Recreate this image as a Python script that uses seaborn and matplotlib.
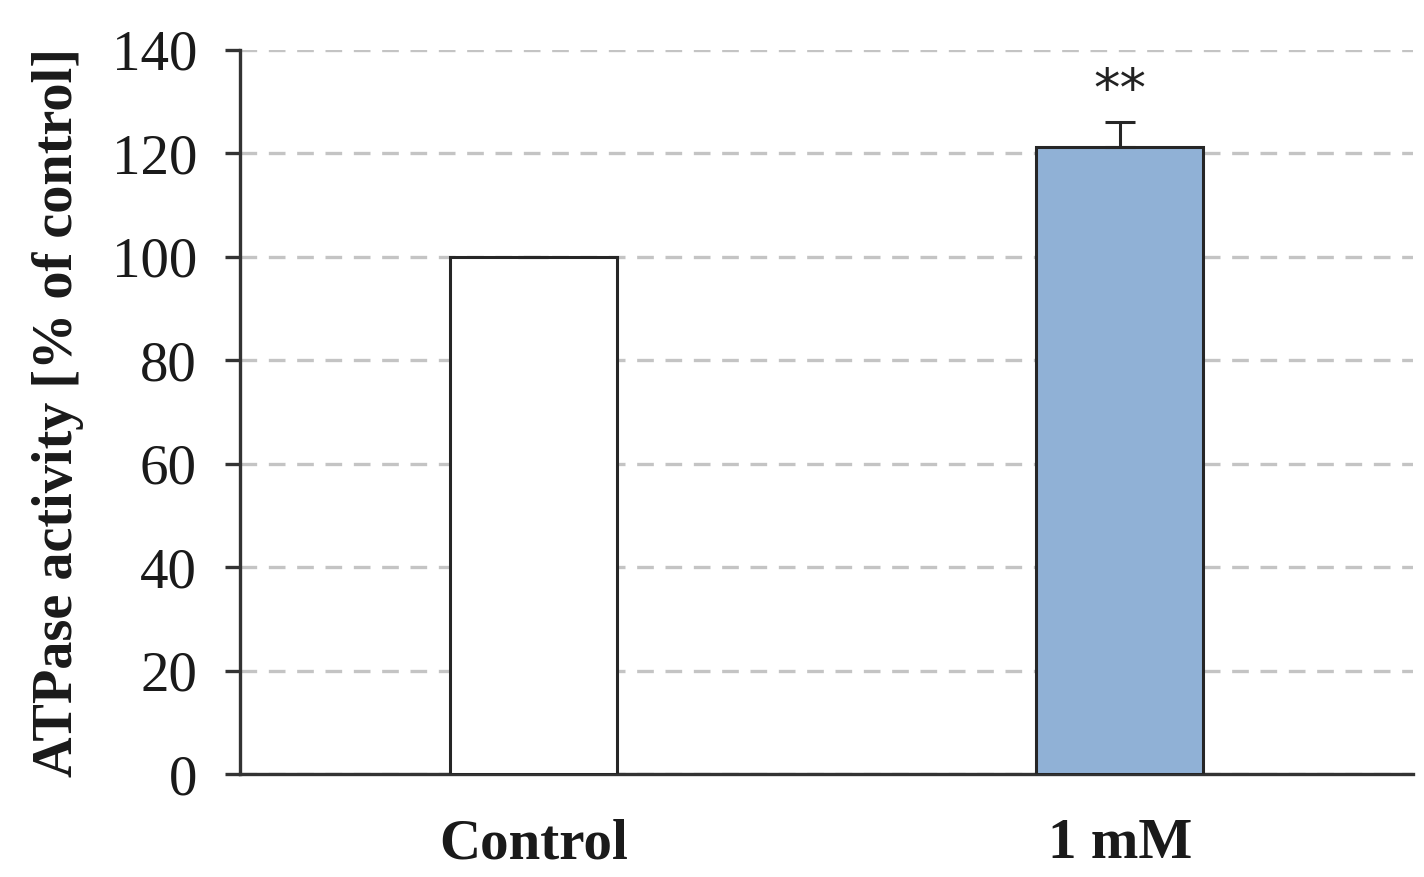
import matplotlib
matplotlib.use("Agg")
import matplotlib.pyplot as plt
import seaborn as sns
import pandas as pd

# data
groups = ["Control", "1 mM"]
activity = [100, 121.3]
sem_up = [0, 4.7]
bar_colors = ["#ffffff", "#90b1d6"]
sig_label = "**"

sns.set_theme(style="white")
plt.rcParams['font.family'] = ['Liberation Serif', 'DejaVu Serif']

df = pd.DataFrame({"group": groups, "activity": activity})

fig = plt.figure(figsize=(14.24, 8.77), dpi=100)
ax = fig.add_axes([0.1685, 0.1174, 0.8238, 0.8256])

sns.barplot(data=df, x="group", y="activity", hue="group", palette=bar_colors,
            saturation=1, legend=False, errorbar=None, width=0.285,
            edgecolor="#262626", linewidth=2.2, ax=ax, zorder=3)

# upward-only error bars
ax.errorbar(range(len(groups)), activity, yerr=[[0] * len(groups), sem_up],
            fmt="none", ecolor="#262626", elinewidth=2.2, capsize=11,
            capthick=2.2, zorder=4)
ax.text(1, 132, sig_label, ha="center", va="center", fontsize=38,
        color="#222222", family="DejaVu Sans")

ax.set_ylim(0, 140)
ax.set_xlim(-0.5, 1.5)
ax.set_yticks(range(0, 141, 20))
ax.yaxis.grid(True, linestyle=(0, (5, 3.5)), color="#c4c4c4", linewidth=2.4, zorder=0)
ax.set_axisbelow(True)

for s in ["top", "right"]:
    ax.spines[s].set_visible(False)
for s in ["left", "bottom"]:
    ax.spines[s].set_color("#333333")
    ax.spines[s].set_linewidth(2.4)

ax.tick_params(axis="y", which="major", left=True, length=11, width=2.4,
               color="#333333", labelsize=41, pad=20, labelcolor="#1a1a1a")
ax.tick_params(axis="x", bottom=False, labelsize=41, pad=26, labelcolor="#1a1a1a")
for lab in ax.get_xticklabels():
    lab.set_fontweight("bold")

ax.set_xlabel("")
ax.set_ylabel("ATPase activity [% of control]", fontsize=40.5, fontweight="bold",
              color="#1a1a1a", labelpad=20)

fig.savefig("out.png", dpi=100, facecolor="white")
